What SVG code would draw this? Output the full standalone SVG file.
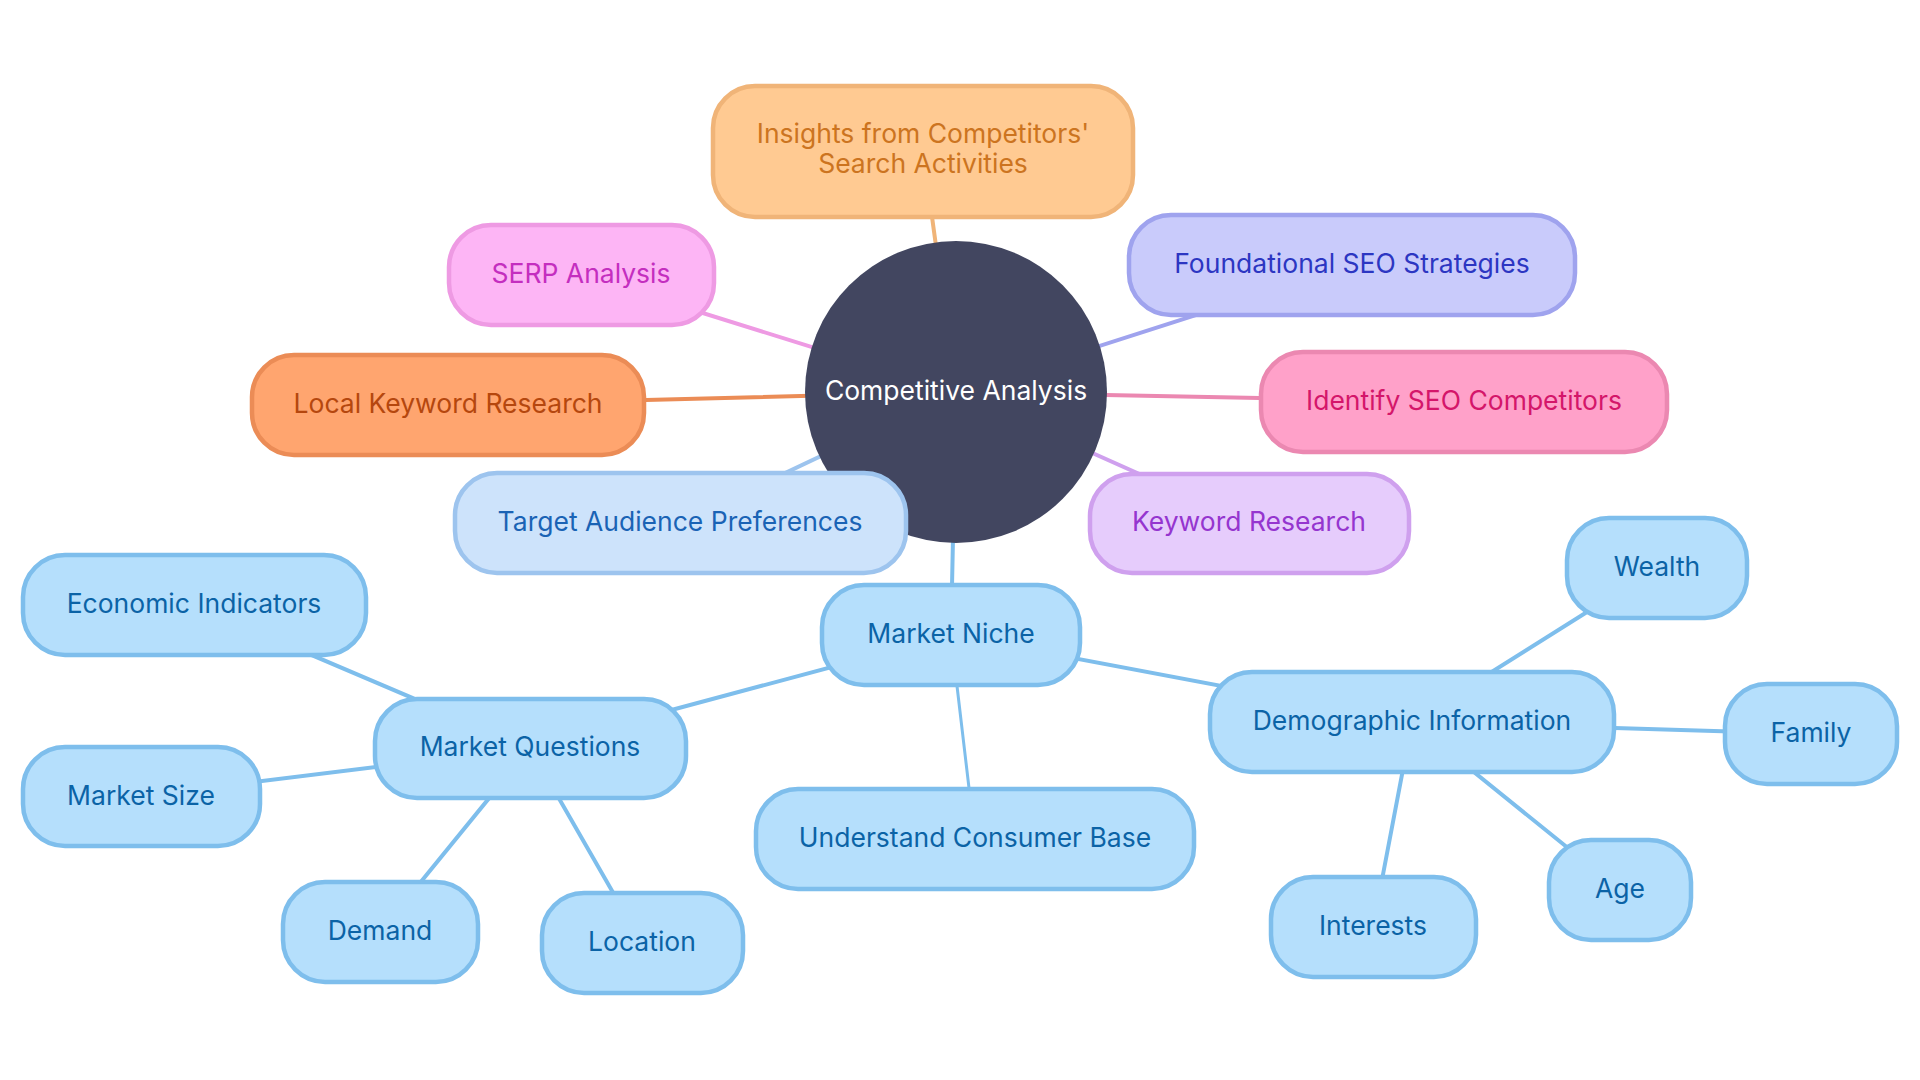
<svg xmlns="http://www.w3.org/2000/svg" width="1920" height="1080" viewBox="0 0 1920 1080">
<style>
text{font-family:Inter,"Open Sans","Liberation Sans",sans-serif;font-size:26.5px;text-anchor:middle;dominant-baseline:central}
.n rect{stroke-width:4.5}
.c line{stroke-width:4;stroke-linecap:round}
.blue rect{fill:#B5DFFC;stroke:#7EBEEC}
.blue text{fill:#0B63A6}
</style>
<rect width="1920" height="1080" fill="#FFFFFF"/>
<g id="connectors" class="c">
<line x1="956" y1="392" x2="923" y2="151" stroke="#F0B478"/>
<line x1="956" y1="392" x2="581" y2="275" stroke="#EE9AE3"/>
<line x1="956" y1="392" x2="1352" y2="265" stroke="#9FA3EE"/>
<line x1="956" y1="392" x2="448" y2="405" stroke="#EB8C56"/>
<line x1="956" y1="392" x2="1464" y2="402" stroke="#EB88B1"/>
<line x1="956" y1="392" x2="680" y2="523" stroke="#9DC4EE"/>
<line x1="956" y1="392" x2="1249" y2="523" stroke="#CFA0EE"/>
<line x1="956" y1="392" x2="951" y2="635" stroke="#7EBEEC"/>
<line x1="951" y1="635" x2="530" y2="748" stroke="#7EBEEC"/>
<line x1="951" y1="635" x2="1412" y2="722" stroke="#7EBEEC"/>
<line x1="951" y1="635" x2="975" y2="839" stroke="#7EBEEC" style="stroke-width:3"/>
<line x1="530" y1="748" x2="194" y2="605" stroke="#7EBEEC"/>
<line x1="530" y1="748" x2="141" y2="796" stroke="#7EBEEC"/>
<line x1="530" y1="748" x2="380" y2="932" stroke="#7EBEEC"/>
<line x1="530" y1="748" x2="642" y2="943" stroke="#7EBEEC"/>
<line x1="1412" y1="722" x2="1657" y2="568" stroke="#7EBEEC"/>
<line x1="1412" y1="722" x2="1811" y2="734" stroke="#7EBEEC"/>
<line x1="1412" y1="722" x2="1620" y2="890" stroke="#7EBEEC"/>
<line x1="1412" y1="722" x2="1373" y2="927" stroke="#7EBEEC"/>
</g>
<g id="root">
<circle cx="956" cy="392" r="151" fill="#424660"/>
<text x="956" y="390" fill="#FFFFFF">Competitive Analysis</text>
</g>
<g id="insights" class="n">
<rect x="713" y="86" width="420" height="131" rx="42" fill="#FFCA92" stroke="#F0B478"/>
<text x="923" y="133" fill="#CC7420">Insights from Competitors'</text>
<text x="923" y="163" fill="#CC7420">Search Activities</text>
</g>
<g id="serp" class="n">
<rect x="449" y="225" width="265" height="100" rx="42" fill="#FDB5F5" stroke="#EE9AE3"/>
<text x="581" y="273" fill="#C42EBF">SERP Analysis</text>
</g>
<g id="foundational" class="n">
<rect x="1129" y="215" width="446" height="100" rx="42" fill="#C9CBFB" stroke="#9FA3EE"/>
<text x="1352" y="263" fill="#2C36C2">Foundational SEO Strategies</text>
</g>
<g id="local" class="n">
<rect x="252" y="355" width="392" height="100" rx="42" fill="#FFA56F" stroke="#EB8C56"/>
<text x="448" y="403" fill="#B5470E">Local Keyword Research</text>
</g>
<g id="identify" class="n">
<rect x="1261" y="352" width="406" height="100" rx="42" fill="#FFA1C9" stroke="#EB88B1"/>
<text x="1464" y="400" fill="#D4166A">Identify SEO Competitors</text>
</g>
<g id="target" class="n">
<rect x="455" y="473" width="451" height="100" rx="42" fill="#CDE3FB" stroke="#9DC4EE"/>
<text x="680" y="521" fill="#1A63B5">Target Audience Preferences</text>
</g>
<g id="keyword" class="n">
<rect x="1090" y="474" width="319" height="99" rx="42" fill="#E6CCFC" stroke="#CFA0EE"/>
<text x="1249" y="521" fill="#9535CF">Keyword Research</text>
</g>
<g id="niche" class="n blue">
<rect x="822" y="585" width="258" height="100" rx="42"/>
<text x="951" y="633">Market Niche</text>
</g>
<g id="economic" class="n blue">
<rect x="23" y="555" width="343" height="100" rx="42"/>
<text x="194" y="603">Economic Indicators</text>
</g>
<g id="questions" class="n blue">
<rect x="375" y="699" width="311" height="99" rx="42"/>
<text x="530" y="746">Market Questions</text>
</g>
<g id="size" class="n blue">
<rect x="23" y="747" width="237" height="99" rx="42"/>
<text x="141" y="795">Market Size</text>
</g>
<g id="demand" class="n blue">
<rect x="283" y="882" width="195" height="100" rx="42"/>
<text x="380" y="930">Demand</text>
</g>
<g id="location" class="n blue">
<rect x="542" y="893" width="201" height="100" rx="42"/>
<text x="642" y="941">Location</text>
</g>
<g id="consumer" class="n blue">
<rect x="756" y="789" width="438" height="100" rx="42"/>
<text x="975" y="837">Understand Consumer Base</text>
</g>
<g id="demographic" class="n blue">
<rect x="1210" y="672" width="404" height="100" rx="42"/>
<text x="1412" y="720">Demographic Information</text>
</g>
<g id="wealth" class="n blue">
<rect x="1567" y="518" width="180" height="100" rx="42"/>
<text x="1657" y="566">Wealth</text>
</g>
<g id="family" class="n blue">
<rect x="1725" y="684" width="172" height="100" rx="42"/>
<text x="1811" y="732">Family</text>
</g>
<g id="age" class="n blue">
<rect x="1549" y="840" width="142" height="100" rx="42"/>
<text x="1620" y="888">Age</text>
</g>
<g id="interests" class="n blue">
<rect x="1271" y="877" width="205" height="100" rx="42"/>
<text x="1373" y="925">Interests</text>
</g>
</svg>
